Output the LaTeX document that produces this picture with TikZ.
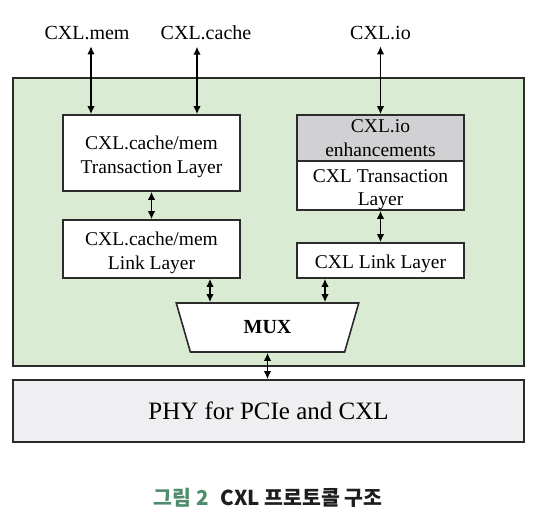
\documentclass[tikz,border=0pt]{standalone}
\usepackage{fontspec}
\setmainfont{Liberation Serif}
\newfontfamily\krfont{Noto Sans CJK KR}
\usepackage{xcolor}
\usepackage{tikz}
\usetikzlibrary{calc,shapes.geometric,arrows.meta}
\definecolor{frame}{HTML}{2B2B2B}
\definecolor{stackbg}{HTML}{D9EBD3}
\definecolor{enhbg}{HTML}{D1D1D4}
\definecolor{phybg}{HTML}{EFEFF1}
\definecolor{capgreen}{HTML}{4E8C6C}
\definecolor{captext}{HTML}{1E1E1E}
\newcommand\lineup{\rule{0pt}{21pt}}
\tikzset{
  base/.style={draw=frame, line width=1.6pt},
  blk/.style={base, fill=white, align=center, inner sep=0pt,
    font=\fontsize{19.5}{23.5}\selectfont},
  lab/.style={text=black, font=\fontsize{20}{24}\selectfont},
  biarr/.style={draw=black, line width=1.6pt, >={Latex[length=8pt,width=7.5pt]}, <->},
  figcap/.style={text=captext, font=\krfont\bfseries\fontsize{20.5}{24}\selectfont}
}

\begin{document}
\begin{tikzpicture}[x=1pt,y=-1pt]
  \useasboundingbox (0,0) rectangle (535,523);

  % outer blocks
  \node[base, fill=stackbg, minimum width=511pt, minimum height=288pt, inner sep=0pt] (stack) at (268.5,222) {};
  \node[base, fill=phybg, minimum width=511pt, minimum height=62pt,
    font=\fontsize{25}{30}\selectfont] (phy) at (268.5,411) {PHY for PCIe and CXL};

  % cache/mem side
  \node[blk, minimum width=177pt, minimum height=76pt] (cmtl) at (151.5,153) {\lineup CXL.cache/mem\\Transaction Layer};
  \node[blk, minimum width=177pt, minimum height=58pt] (cmll) at (151.5,249) {\lineup CXL.cache/mem\\Link Layer};

  % io side
  \node[blk, fill=enhbg, minimum width=167pt, minimum height=46pt] (ioenh) at (380.5,138) {CXL.io\\enhancements};
  \node[blk, minimum width=167pt, minimum height=49pt] (iotl) at (380.5,185.5) {\lineup CXL Transaction\\Layer};
  \node[blk, minimum width=167pt, minimum height=35pt] (ioll) at (380.5,260.5) {\lineup CXL Link Layer};

  \node[base, fill=white, trapezium, shape border rotate=180, trapezium angle=76,
    trapezium stretches=true, minimum width=183pt, minimum height=49pt,
    font=\bfseries\fontsize{20}{24}\selectfont] (mux) at (267.5,327.5) {MUX};

  % protocol labels
  \node[lab] (mem) at (87,33) {CXL.mem};
  \node[lab] (cache) at (206,33) {CXL.cache};
  \node[lab] (io) at (380.5,33) {CXL.io};

  \coordinate (memx) at (91,0);
  \coordinate (cachex) at (197,0);
  \coordinate (muxl) at (210,0);
  \coordinate (muxr) at (325,0);

  \draw[biarr] ($(mem.south -| memx)+(0,3)$) -- (cmtl.north -| memx);
  \draw[biarr] ($(cache.south -| cachex)+(0,3)$) -- (cmtl.north -| cachex);
  \draw[biarr] ($(io.south)+(0,3)$) -- (ioenh.north);
  \draw[biarr] (cmtl) -- (cmll);
  \draw[biarr] (iotl) -- (ioll);
  \draw[biarr] (cmll.south -| muxl) -- (mux.north -| muxl);
  \draw[biarr] (ioll.south -| muxr) -- (mux.north -| muxr);
  \draw[biarr] (mux.south) -- (phy.north -| mux.south);

  \node[figcap] (caption) at (268,498) {\textcolor{capgreen}{그림 2}\hspace{12pt}CXL 프로토콜 구조};
\end{tikzpicture}
\end{document}
